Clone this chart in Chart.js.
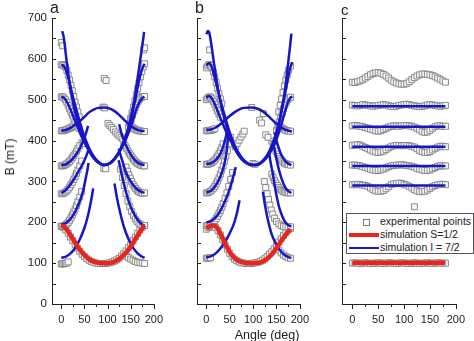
<!DOCTYPE html>
<html>
<head>
<meta charset="utf-8">
<script src="https://cdn.jsdelivr.net/npm/chart.js@4"></script>
<style>
  body { margin: 0; background: #fff; width: 474px; height: 341px; position: relative; overflow: hidden;
         font-family: "Liberation Sans", Arial, sans-serif; color: #222; }
  canvas { position: absolute; top: 0; }
  .txt { position: absolute; line-height: 1; white-space: nowrap; }
  #legend { position: absolute; left: 346px; top: 213px; width: 126px; height: 39px; border: 1px solid #555;
            background: #fff; font-size: 10.5px; }
  #legend .row { position: absolute; left: 0; height: 13px; line-height: 13px; }
  #legend .sym { position: absolute; }
</style>
</head>
<body>
<canvas id="pa" width="172" height="341" style="left:0px"></canvas>
<canvas id="pb" width="146" height="341" style="left:172px"></canvas>
<canvas id="pc" width="156" height="341" style="left:318px"></canvas>

<div class="txt" style="left:50px;top:0px;font-size:16px">a</div>
<div class="txt" style="left:195px;top:0px;font-size:16px">b</div>
<div class="txt" style="left:341px;top:2px;font-size:15px">c</div>
<div class="txt" style="left:9.5px;top:157px;font-size:12px;transform:translate(-50%,-50%) rotate(-90deg)">B (mT)</div>
<div class="txt" style="left:267px;top:335px;font-size:12.5px;transform:translate(-50%,-50%)">Angle (deg)</div>

<div id="legend">
  <div class="row" style="top:1px;width:126px">
    <span class="sym" style="left:16px;top:4px;width:5px;height:5px;border:1px solid #7d7d7d"></span>
    <span style="position:absolute;left:33px">experimental points</span>
  </div>
  <div class="row" style="top:14px;width:126px">
    <span class="sym" style="left:2px;top:4.5px;width:30px;height:4.5px;background:#e8241c"></span>
    <span style="position:absolute;left:33px">simulation S=1/2</span>
  </div>
  <div class="row" style="top:27px;width:126px">
    <span class="sym" style="left:2px;top:5.5px;width:30px;height:2.6px;background:#1616c8"></span>
    <span style="position:absolute;left:33px">simulation I = 7/2</span>
  </div>
</div>

<script>
// axis ticks
const xLabels = [0, 50, 100, 150, 200];
const yLabels = [0, 100, 200, 300, 400, 500, 600, 700];
const xMarks = [0, 25, 50, 75, 100, 125, 150, 175, 200];
const yMarks = [0, 50, 100, 150, 200, 250, 300, 350, 400, 450, 500, 550, 600, 650, 700];

// angle grid shared by the evenly sampled series
const gridAngles = [0, 5, 10, 15, 20, 25, 30, 35, 40, 45, 50, 55, 60, 65, 70, 75, 80, 85, 90,
                    95, 100, 105, 110, 115, 120, 125, 130, 135, 140, 145, 150, 155, 160, 165, 170, 175, 180];

// ---- panel a : simulation I = 7/2 ----
const simA1 = [[2,668],[5,655],[8,630],[11,600],[15,565],[20,527],[25,497],[30,470],[40,430],[50,398],[60,374],[70,357],[80,346],[93,340],[105,345],[115,356],[125,373],[135,398],[145,432],[152,465],[158,500],[164,545],[170,592],[175,632],[179,666]];
const simA2 = [[0,585],[4,584],[8,578],[12,566],[16,550],[20,532],[25,508],[30,486],[40,446],[50,410],[60,382],[70,362],[80,348],[93,340],[105,344],[115,355],[125,372],[135,396],[145,428],[152,458],[158,490],[164,524],[170,556],[175,576],[180,588]];
const simA3 = [[0,507],[4,506],[8,502],[12,495],[16,486],[20,476],[25,462],[30,448],[40,420],[50,396],[60,376],[70,360],[80,348],[93,340],[105,344],[115,354],[125,370],[135,392],[145,418],[152,440],[158,462],[164,482],[170,496],[175,504],[180,507]];
const simAArch = [[0,424],[10,426],[20,431],[30,439],[40,447],[50,458],[60,469],[70,476],[80,480],[93,481],[105,478],[115,472],[125,463],[135,452],[145,441],[155,432],[165,426],[172,424],[180,423]];
const simAL1 = [[0,340],[10,342],[20,350],[30,363],[40,381],[48,401],[54,420],[58,436]];
const simAL2 = [[0,272],[8,277],[16,287],[26,303],[36,322],[46,342],[54,362],[58,375]];
const simAL3 = [[0,195],[10,198],[20,208],[30,226],[40,252],[48,280],[52,303],[56,325],[59,345]];
const simAL4 = [[0,113],[10,116],[20,124],[30,137],[40,158],[50,186],[58,218],[64,250],[69,283]];
const simAR1 = [[125,440],[132,410],[140,388],[150,366],[160,351],[170,343],[180,340]];
const simAR2 = [[124,380],[132,350],[140,322],[150,300],[160,285],[170,276],[180,272]];
const simAR3 = [[124,352],[130,320],[138,282],[146,250],[155,225],[165,206],[173,196],[180,192]];
const simAR4 = [[115,295],[120,262],[127,225],[135,190],[145,160],[155,138],[165,124],[173,117],[180,113]];
// panel a : simulation S = 1/2 (on gridAngles)
const simARed = [193,190,185,177,168,159,150,141,133,126,120,114,110,106,104,102,101,100,100,100,100,101,102,104,107,110,115,120,126,133,141,150,159,168,177,185,193];

// ---- panel a : experimental points ----
const expAUpper = [[0,640],[3,632],[178,622],[180,627],[93,552],[97,547],[90,482],[94,480],[92,332],[96,331]];
const expAMid = [[101,442],[105,437],[109,432],[113,427],[117,421],[121,416],[125,412],[129,408],[133,404]];
const expA585L = [[0,585],[3,586],[6,584],[9,580],[12,572],[15,560],[18,548],[21,535],[24,522],[27,508],[30,494],[33,482],[36,470],[39,458]];
const expA507L = [[0,507],[3,507],[6,504],[9,500],[12,494],[15,486],[18,478],[21,470],[24,462],[27,454],[30,446],[34,438],[38,430]];
const expA426L = [[0,424],[3,424],[6,425],[9,426],[12,427],[15,429],[18,430],[21,432],[24,434],[27,436]];
const expA340L = [[0,338],[3,338],[6,339],[9,341],[12,343],[15,346],[18,349],[21,353],[24,358],[27,363],[30,368],[33,374],[36,380],[40,388],[45,395],[48,393]];
const expA270L = [[0,270],[3,270],[6,272],[9,274],[12,277],[15,281],[18,286],[21,292],[24,298],[27,305],[30,312],[33,320],[36,328],[40,338],[44,350]];
const expA190L = [[0,190],[3,190],[6,191],[9,193],[12,196],[15,200],[18,205],[21,211],[24,218],[27,225],[30,233],[33,241],[36,250],[40,262],[44,275]];
const expA100L = [[0,98],[3,98],[6,99],[9,100],[12,100],[15,103]];
const expA340R = [[135,395],[138,388],[141,381],[144,375],[147,369],[150,364],[153,359],[156,354],[159,350],[162,347],[165,344],[168,342],[171,340],[174,339],[177,338],[180,338]];
const expA270R = [[140,335],[143,325],[146,316],[149,308],[152,300],[155,293],[158,287],[161,282],[164,278],[167,275],[170,273],[173,272],[176,271],[180,272]];
const expA190R = [[128,330],[132,310],[136,290],[140,270],[144,252],[148,238],[152,226],[156,216],[160,208],[164,202],[168,197],[172,194],[176,192],[180,192]];
const expA100R = [[140,118],[145,114],[150,110],[155,107],[160,104],[165,102],[170,101],[175,100],[180,99]];
const expA426R = [[150,436],[153,433],[156,430],[159,428],[162,426],[165,425],[168,424],[171,423],[174,423],[177,422],[180,422]];
const expA507R = [[145,432],[148,442],[151,452],[154,462],[157,472],[160,481],[163,489],[166,496],[169,501],[172,505],[175,507],[178,508],[180,508]];
const expA585R = [[150,455],[153,468],[156,482],[159,497],[162,512],[165,527],[168,542],[171,556],[174,569],[177,580],[180,588]];
const expARed = [190,187,181,173,164,155,146,137,129,122,116,111,107,104,102,100,99,99,99,99,100,101,103,105,108,112,117,123,130,138,146,155,164,173,181,188,192];

// ---- panel b : simulation I = 7/2 ----
const simB1 = [[0,660],[3,668],[6,665],[10,640],[15,600],[20,560],[25,525],[30,495],[40,448],[50,410],[60,382],[70,362],[80,349],[90,342],[102,340],[112,343],[122,352],[132,368],[142,393],[150,420],[158,458],[165,500],[170,540],[175,590],[179,630],[182,662]];
const simB2 = [[0,584],[5,589],[8,588],[12,578],[16,562],[20,544],[25,522],[30,500],[40,458],[50,420],[60,390],[70,368],[80,352],[90,343],[102,340],[112,342],[122,350],[132,366],[142,392],[150,420],[158,455],[165,495],[170,525],[175,555],[180,580],[184,592]];
const simB3 = [[0,505],[5,509],[8,508],[12,503],[16,494],[20,484],[25,470],[30,455],[40,428],[50,404],[60,383],[70,366],[80,352],[90,343],[102,340],[112,342],[122,350],[132,363],[142,382],[150,403],[158,430],[165,458],[170,478],[175,495],[180,505],[184,508]];
const simBArch = [[0,426],[10,427],[20,432],[30,440],[40,450],[50,460],[60,469],[70,476],[80,480],[95,481],[110,478],[120,472],[130,463],[140,452],[150,441],[160,432],[170,426],[180,423],[183,422]];
const simBL1 = [[0,343],[10,345],[20,352],[30,368],[36,385],[40,401],[44,420]];
const simBL2 = [[0,273],[10,277],[20,290],[30,312],[38,340],[43,370],[46,401],[48,420]];
const simBL3 = [[0,200],[10,203],[20,212],[30,228],[40,252],[50,282],[56,305],[60,322],[63,335]];
const simBL4 = [[0,114],[10,117],[20,124],[30,136],[40,152],[50,173],[60,200],[66,225],[71,254]];
const simBR1 = [[146,420],[150,400],[155,382],[160,366],[166,354],[172,346],[178,342],[182,340]];
const simBR2 = [[142,400],[146,378],[150,355],[155,330],[160,310],[166,292],[172,280],[178,274],[182,272]];
const simBR3 = [[134,372],[137,350],[142,320],[146,292],[150,266],[155,240],[160,222],[166,206],[172,196],[178,191],[182,190]];
const simBR4 = [[121,275],[125,245],[130,215],[135,190],[140,170],[150,145],[160,128],[170,118],[177,114],[182,113]];
const simBRed = [185,189,192,193,190,183,172,160,148,137,127,119,113,108,105,103,101,100,100,100,100,101,101,102,104,107,111,116,122,129,137,145,154,162,170,177,183];

// ---- panel b : experimental points ----
const expBUpper = [[7,622],[97,481],[100,344],[104,342]];
const expBMid = [[62,385],[66,393],[70,401],[74,409],[78,416],[81,423],[114,450],[118,443],[122,466],[127,414],[132,408]];
const expB585L = [[0,578],[3,583],[6,586],[9,584],[12,578],[15,568],[18,556],[21,542],[24,528],[27,515],[30,502],[33,490]];
const expB507L = [[0,500],[3,504],[6,507],[9,506],[12,502],[15,496],[18,489],[21,481],[24,473],[27,465],[30,457]];
const expB426L = [[0,424],[3,424],[6,425],[9,425],[12,426],[15,427],[18,429]];
const expB340L = [[0,342],[3,342],[6,343],[9,344],[12,346],[15,349],[18,352],[21,357],[24,362],[27,368],[30,375],[33,383],[36,392]];
const expB270L = [[0,272],[3,272],[6,274],[9,276],[12,279],[15,283],[18,288],[21,294],[24,301],[27,309],[30,318],[33,328],[36,338],[39,350],[42,362],[45,375],[48,392],[52,408]];
const expB190L = [[0,192],[3,192],[6,193],[9,195],[12,197],[15,200],[18,204],[21,209],[24,215],[27,222],[30,229],[33,237],[36,246],[40,258],[44,272],[48,288],[52,305],[56,322]];
const expB100L = [[0,112],[3,112],[6,113],[9,113]];
const expB340R = [[140,398],[143,390],[146,382],[149,374],[152,367],[155,361],[158,356],[161,352],[164,348],[167,345],[170,343],[173,342],[176,341],[180,340]];
const expB270R = [[140,318],[143,310],[146,302],[149,296],[152,290],[155,285],[158,281],[161,278],[164,276],[167,274],[170,273],[173,272],[176,272],[180,272]];
const expB190R = [[124,300],[127,285],[130,270],[133,256],[136,242],[139,230],[142,220],[146,210],[150,202],[155,196],[160,192],[165,190],[170,189],[175,189],[180,189]];
const expB100R = [[150,140],[155,132],[160,125],[165,120],[170,116],[175,113],[180,112]];
const expB426R = [[155,437],[158,434],[161,431],[164,429],[167,427],[170,425],[173,424],[176,423],[180,423]];
const expB507R = [[150,425],[153,435],[156,446],[159,457],[162,468],[165,478],[168,487],[171,494],[174,500],[177,504],[180,506]];
const expB585R = [[155,470],[158,486],[161,502],[164,518],[167,534],[170,548],[173,561],[176,572],[180,582]];
const expBRed = [183,187,190,191,187,180,169,157,145,134,124,116,110,106,103,101,100,99,99,99,100,101,102,104,107,111,116,122,128,135,143,152,160,168,175,181,185];

// ---- panel c : flat simulated lines ----
const cLineAngles = [0, 180];
const simCBlue = [484, 434, 385, 338, 290];
const simCRed = 101;
// panel c : experimental rows (on gridAngles)
const expC1 = [543,542,544,546,549,553,557,561,564,566,566,565,562,558,553,548,544,541,539,538,538,540,544,549,554,558,561,563,563,562,561,559,556,553,550,546,543];
const expC2 = [487,486,485,486,488,487,486,485,484,485,486,487,488,487,485,484,483,484,486,487,488,489,488,486,485,484,483,484,485,487,488,487,486,485,484,485,486];
const expC3 = [436,437,436,435,434,432,430,428,426,424,423,424,427,430,433,435,436,436,435,436,437,437,436,435,433,430,426,422,420,421,425,430,434,436,436,435,435];
const expC4 = [388,389,390,389,386,383,380,377,374,372,371,372,374,378,382,385,387,388,388,387,388,388,387,386,384,380,376,373,371,371,373,377,381,384,386,386,385];
const expC5 = [340,340,339,338,336,334,332,330,328,327,327,328,330,333,336,338,339,340,340,341,340,339,338,337,335,332,330,328,327,327,328,331,334,337,338,338,338];
const expC6 = [292,292,293,292,291,290,288,284,280,277,276,276,278,282,287,292,294,295,296,295,293,291,288,284,280,277,275,275,276,279,283,287,290,292,293,293,292];
const expCRed = [100,101,100,99,100,101,100,99,100,100,101,100,99,100,101,100,100,99,100,101,100,100,99,100,101,100,99,100,100,101,100,99,100,101,100,100,100];
const expCExtra = [[120,238]];

const BLUE = '#1616c8';
const RED = '#e8241c';

Chart.defaults.font.family = '"Liberation Sans", Arial, sans-serif';
Chart.defaults.color = '#222';

const onGrid = vals => gridAngles.map((a, i) => [a, vals[i]]);

function squares(data) {
    return { data, showLine: false, pointStyle: 'rect', pointRadius: 4.2, pointBorderWidth: 0.9,
             pointBorderColor: '#808080', pointBackgroundColor: '#f8f8f8', order: 3 };
}
function curve(data, color, width, order) {
    return { data, showLine: true, borderColor: color, borderWidth: width, pointRadius: 0,
             cubicInterpolationMode: 'monotone', fill: false, order };
}

// short ticks: outward on x, inward on y
const tickMarks = {
    id: 'tickMarks',
    afterDraw(chart) {
        const { ctx, scales: { x, y } } = chart;
        ctx.save();
        ctx.strokeStyle = '#222';
        ctx.lineWidth = 1;
        ctx.beginPath();
        xMarks.forEach(v => {
            const px = Math.round(x.getPixelForValue(v)) + 0.5;
            ctx.moveTo(px, y.bottom);
            ctx.lineTo(px, y.bottom + (v % 50 === 0 ? 5 : 3));
        });
        yMarks.forEach(v => {
            const py = Math.round(y.getPixelForValue(v)) + 0.5;
            ctx.moveTo(x.left, py);
            ctx.lineTo(x.left + 4, py);
        });
        ctx.stroke();
        ctx.restore();
    }
};

function makePanel(id, datasets, showYLabels, yAxisWidth, padRight) {
    return new Chart(document.getElementById(id), {
        type: 'scatter',
        data: { datasets },
        options: {
            responsive: false,
            animation: false,
            layout: { padding: { top: 18, right: padRight, left: 0, bottom: 0 } },
            plugins: { legend: { display: false }, tooltip: { enabled: false } },
            scales: {
                x: {
                    type: 'linear', min: -20, max: 200,
                    grid: { display: false, drawTicks: false },
                    border: { display: true, color: '#222', width: 1 },
                    afterBuildTicks: s => { s.ticks = xLabels.map(v => ({ value: v })); },
                    ticks: { font: { size: 11 }, padding: 9, maxRotation: 0, autoSkip: false },
                    afterFit: s => { s.height = 37; }
                },
                y: {
                    type: 'linear', min: 0, max: 700,
                    grid: { display: false, drawTicks: false },
                    border: { display: true, color: '#222', width: 1 },
                    afterBuildTicks: s => { s.ticks = yLabels.map(v => ({ value: v })); },
                    ticks: { display: showYLabels, font: { size: 11.5 }, padding: 5 },
                    afterFit: s => { s.width = yAxisWidth; }
                }
            }
        },
        plugins: [tickMarks]
    });
}

// panel a
makePanel('pa', [
    ...[expAUpper, expAMid, expA585L, expA507L, expA426L, expA340L, expA270L, expA190L, expA100L,
        expA340R, expA270R, expA190R, expA100R, expA426R, expA507R, expA585R].map(squares),
    squares(onGrid(expARed)),
    ...[simA1, simA2, simA3, simAArch, simAL1, simAL2, simAL3, simAL4, simAR1, simAR2, simAR3, simAR4]
        .map(d => curve(d, BLUE, 2.5, 2)),
    curve(onGrid(simARed), RED, 4.5, 1)
], true, 52, 4);

// panel b
makePanel('pb', [
    ...[expBUpper, expBMid, expB585L, expB507L, expB426L, expB340L, expB270L, expB190L, expB100L,
        expB340R, expB270R, expB190R, expB100R, expB426R, expB507R, expB585R].map(squares),
    squares(onGrid(expBRed)),
    ...[simB1, simB2, simB3, simBArch, simBL1, simBL2, simBL3, simBL4, simBR1, simBR2, simBR3, simBR4]
        .map(d => curve(d, BLUE, 2.5, 2)),
    curve(onGrid(simBRed), RED, 4.5, 1)
], false, 25, 6);

// panel c
makePanel('pc', [
    ...[expC1, expC2, expC3, expC4, expC5, expC6, expCRed].map(r => squares(onGrid(r))),
    squares(expCExtra),
    ...simCBlue.map(v => curve(cLineAngles.map(a => [a, v]), BLUE, 2.5, 2)),
    curve(cLineAngles.map(a => [a, simCRed]), RED, 4.5, 1)
], false, 24, 15);
</script>
</body>
</html>
